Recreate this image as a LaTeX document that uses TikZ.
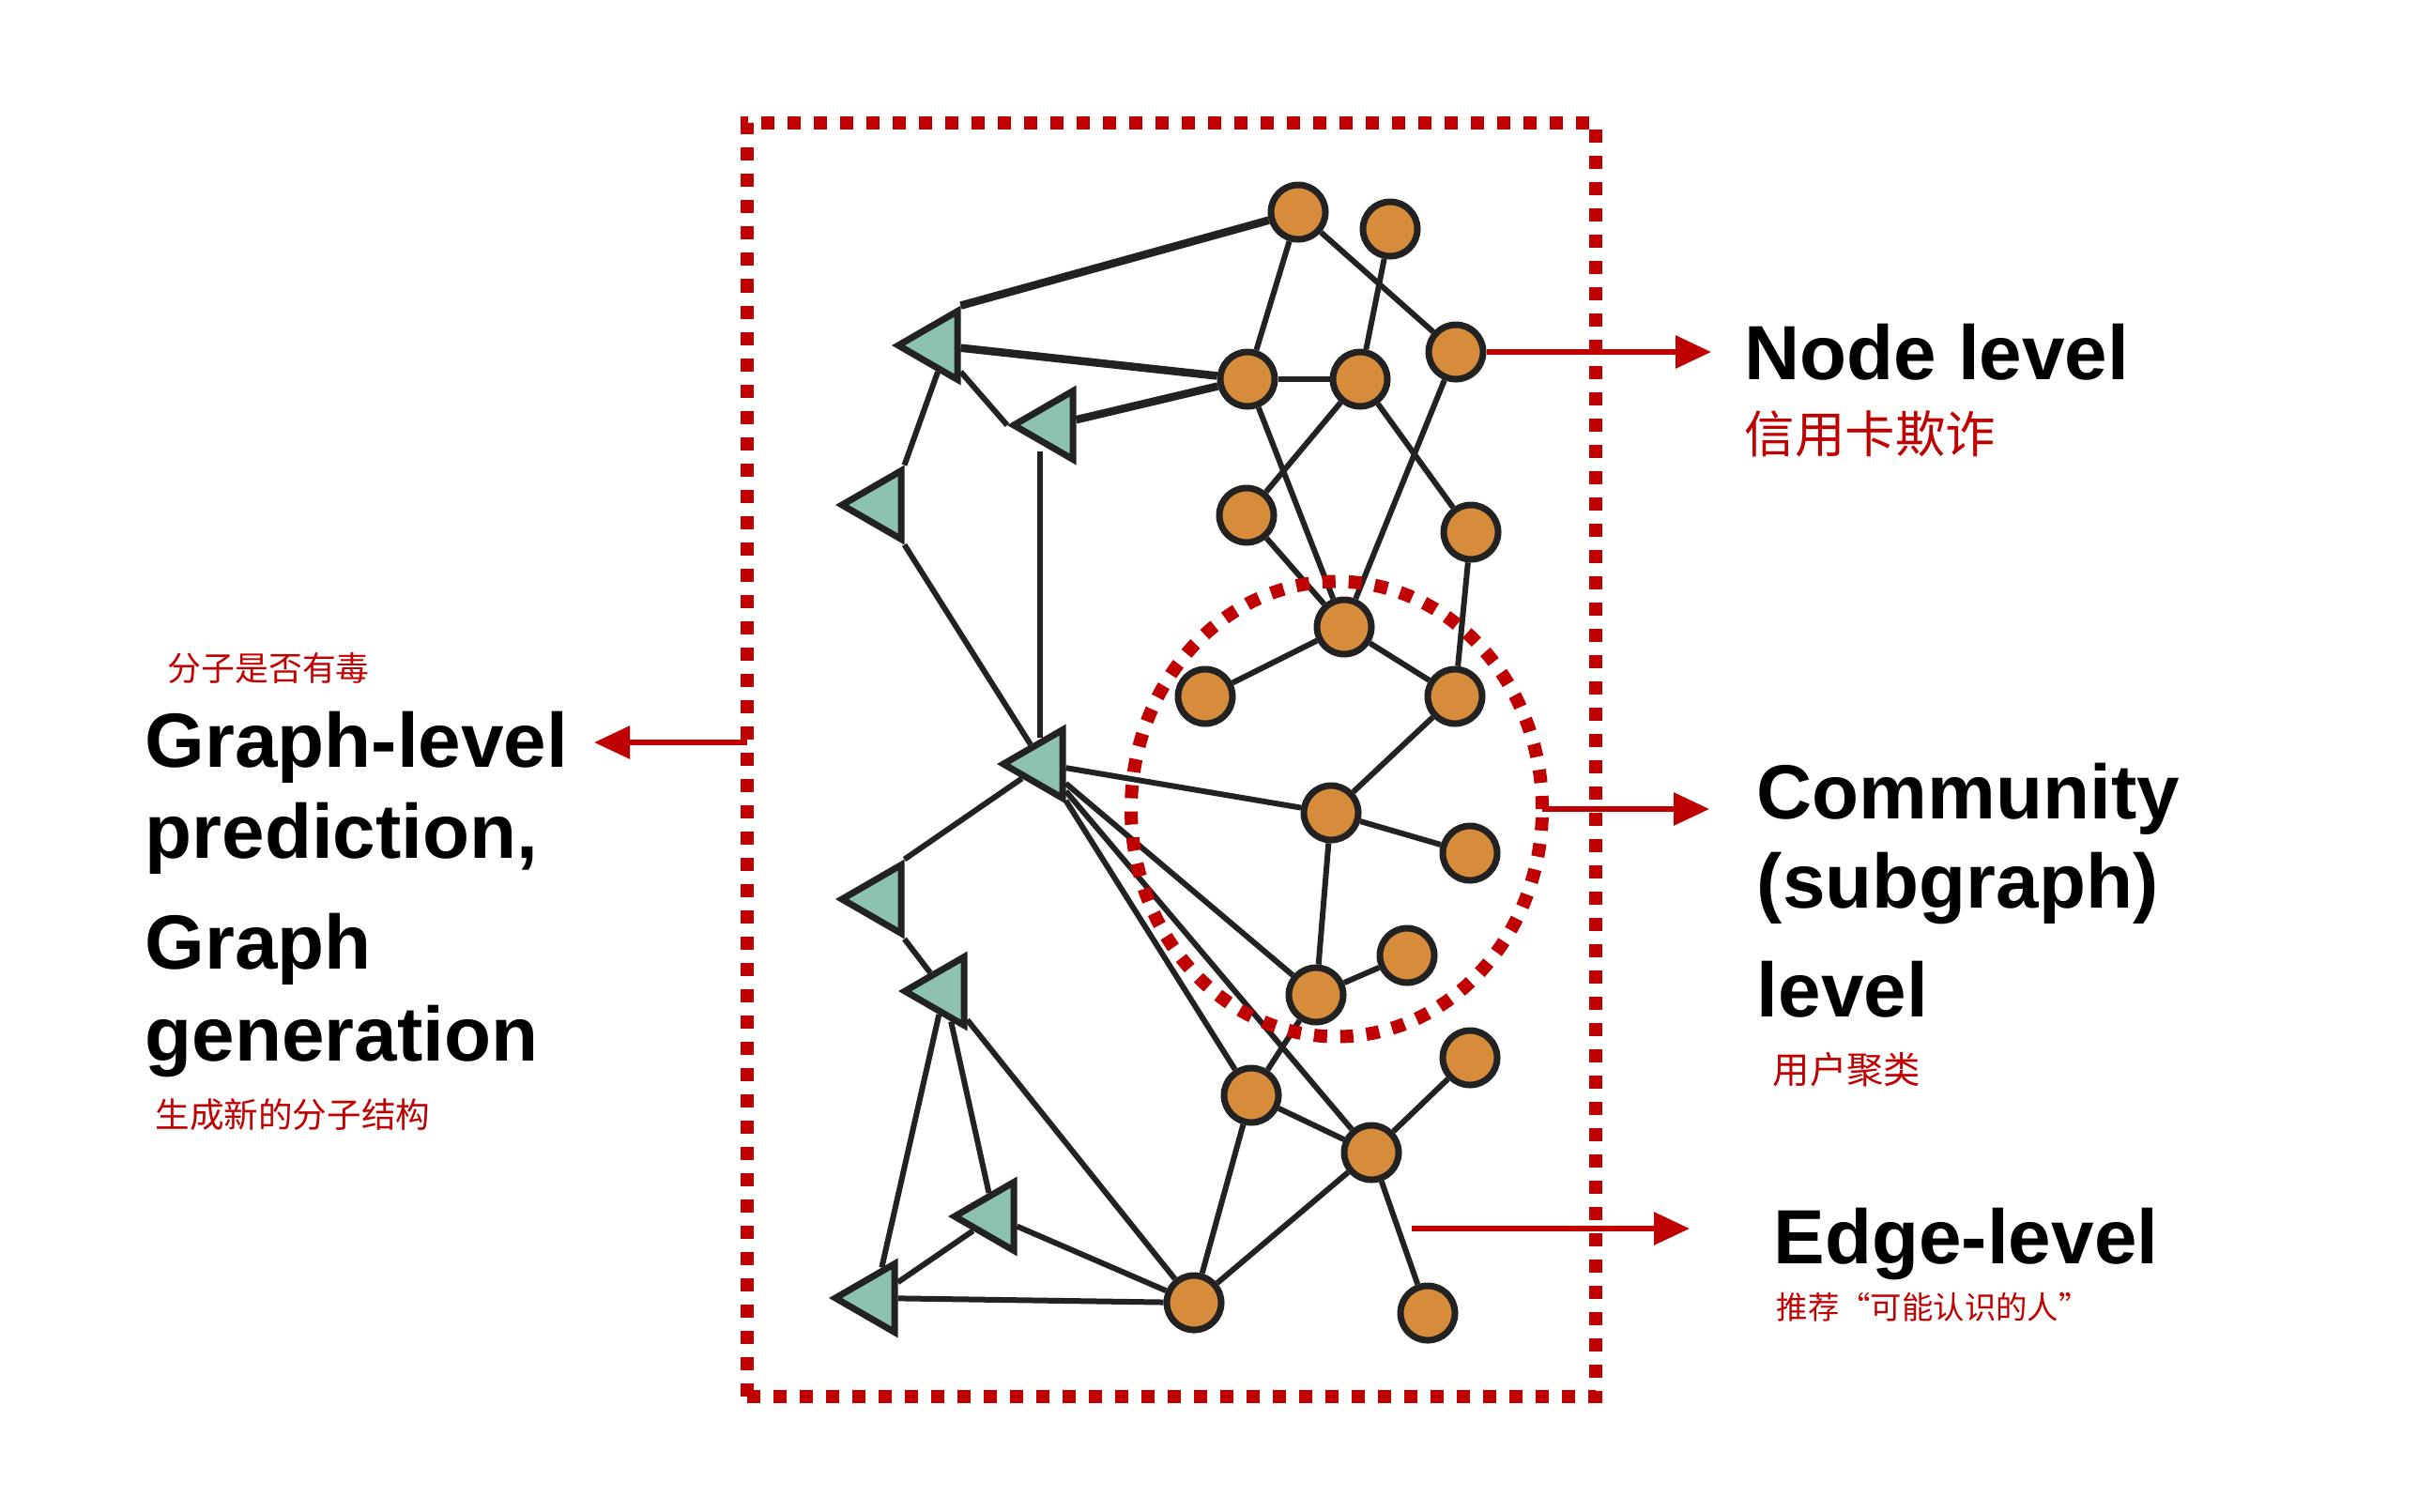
\documentclass[tikz,border=0pt]{standalone}
\usepackage{fontspec}
\setmainfont{Liberation Sans}
\newfontfamily\cjk{Noto Sans CJK SC}
\usepackage{xcolor}
\usepackage{tikz}
\usetikzlibrary{arrows.meta,shapes.geometric}

\definecolor{boxred}{HTML}{C00000}
\definecolor{vtxorange}{HTML}{D68C3A}
\definecolor{triteal}{HTML}{8DC1B1}
\definecolor{edgedark}{HTML}{222222}

\begin{document}
\begin{tikzpicture}[y=-1cm,
	vtx/.style={circle, draw=edgedark, fill=vtxorange, line width=0.07cm, minimum size=0.58cm, inner sep=0pt},
	tri/.style={regular polygon, regular polygon sides=3, shape border rotate=90, draw=edgedark, fill=triteal, line width=0.07cm, minimum size=0.84cm, inner sep=0pt},
	link/.style={draw=edgedark, line width=0.06cm},
	heavy/.style={draw=edgedark, line width=0.085cm},
	dots/.style={draw=boxred, line width=0.14cm, dash pattern=on 0.14cm off 0.14cm, inner sep=0pt, outer sep=0pt},
	pointer/.style={draw=boxred, line width=0.06cm, -{Triangle[length=0.38cm,width=0.34cm]}},
	big/.style={font=\fontsize{23.3}{28}\selectfont\bfseries, inner sep=0pt, anchor=base west},
	note/.style={text=boxred, inner sep=0pt, anchor=west}]

	\useasboundingbox (0,0) rectangle (25.76,16.10);

	\node[dots, rectangle, minimum width=9.04cm, minimum height=13.57cm] (frame) at (12.48,8.09) {};

	\node[vtx] (c1) at (13.83,2.26) {};
	\node[vtx] (c2) at (14.81,2.44) {};
	\node[vtx] (c3) at (15.51,3.75) {};
	\node[vtx] (c4) at (13.29,4.04) {};
	\node[vtx] (c5) at (14.49,4.04) {};
	\node[vtx] (c6) at (13.28,5.49) {};
	\node[vtx] (c7) at (15.67,5.67) {};
	\node[vtx] (c8) at (14.32,6.68) {};
	\node[vtx] (c9) at (12.84,7.42) {};
	\node[vtx] (c10) at (15.50,7.42) {};
	\node[vtx] (c11) at (14.18,8.66) {};
	\node[vtx] (c12) at (15.66,9.09) {};
	\node[vtx] (c13) at (14.99,10.18) {};
	\node[vtx] (c14) at (14.02,10.60) {};
	\node[vtx] (c15) at (15.66,11.27) {};
	\node[vtx] (c16) at (13.33,11.67) {};
	\node[vtx] (c17) at (14.61,12.28) {};
	\node[vtx] (c18) at (12.72,13.88) {};
	\node[vtx] (c19) at (15.21,13.99) {};

	\node[tri] (t1) at (9.99,3.68) {};
	\node[tri] (t2) at (11.22,4.53) {};
	\node[tri] (t3) at (9.39,5.38) {};
	\node[tri] (t4) at (11.11,8.14) {};
	\node[tri] (t5) at (9.39,9.58) {};
	\node[tri] (t6) at (10.06,10.56) {};
	\node[tri] (t7) at (10.59,12.96) {};
	\node[tri] (t8) at (9.32,13.83) {};

	\draw[heavy] (t1.corner 3) -- (c1);
	\draw[heavy] (t1) -- (c4);
	\draw[heavy] (t2) -- (c4);
	\draw[link] (t1) -- (t2.corner 1);
	\draw[link] (t1.south) -- (t3.corner 3);
	\draw[link] ([xshift=-0.14cm]t2.south) -- ([xshift=-0.14cm]t2.south |- t4.north);
	\draw[link] (t3.corner 2) -- (t4);
	\draw[link] (c1) -- (c4);
	\draw[link] (c1) -- (c3);
	\draw[link] (c2) -- (c5);
	\draw[link] (c4) -- (c5);
	\draw[link] (c4) -- (c8);
	\draw[link] (c5) -- (c6);
	\draw[link] (c5) -- (c7);
	\draw[link] (c3) -- (c8);
	\draw[link] (c6) -- (c8);
	\draw[link] (c7) -- (c10);
	\draw[link] (c8) -- (c9);
	\draw[link] (c8) -- (c10);
	\draw[link] (c10) -- (c11);
	\draw[link] (c11) -- (c12);
	\draw[link] (c11) -- (c14);
	\draw[link] (t4) -- (c11);
	\draw[link] (t4) -- (c14);
	\draw[link] (t4) -- (c16);
	\draw[link] (t4) -- (c17);
	\draw[link] (t4) -- (t5.corner 3);
	\draw[link] (t5.corner 2) -- (t6);
	\draw[link] (t6) -- (t7);
	\draw[link] (t6) -- (t8);
	\draw[link] (t6) -- (c18);
	\draw[link] (t7) -- (t8);
	\draw[link] (t7) -- (c18);
	\draw[link] (t8) -- (c18);
	\draw[link] (c14) -- (c13);
	\draw[link] (c14) -- (c16);
	\draw[link] (c16) -- (c17);
	\draw[link] (c16) -- (c18);
	\draw[link] (c17) -- (c18);
	\draw[link] (c17) -- (c15);
	\draw[link] (c17) -- (c19);

	\node[dots, ellipse, minimum width=4.38cm, minimum height=4.85cm] (community) at (14.24,8.62) {};

	\coordinate (nodetip) at (18.23,3.75);
	\draw[pointer] (c3.east) -- (nodetip);
	\coordinate (commtip) at (18.21,8.62);
	\draw[pointer] (community.east) -- (commtip);
	\coordinate (edgestart) at (15.04,13.09);
	\coordinate (edgetip) at (18.00,13.09);
	\draw[pointer] (edgestart) -- (edgetip);
	\coordinate (graphtip) at (6.33,7.91);
	\draw[pointer] (frame.west |- graphtip) -- (graphtip);

	\node[big] (nodelvl) at (18.58,4.04) {Node level};
	\node[note, font=\cjk\fontsize{15.2}{16}\selectfont] (nodenote) at (18.58,4.62) {信用卡欺诈};

	\node[note, font=\cjk\fontsize{10.2}{12}\selectfont] (graphnote) at (1.78,7.12) {分子是否有毒};
	\node[big] (gl1) at (1.54,8.17) {Graph-level};
	\node[big] (gl2) at (1.54,9.14) {prediction,};
	\node[big] (gl3) at (1.54,10.32) {Graph};
	\node[big] (gl4) at (1.54,11.30) {generation};
	\node[note, font=\cjk\fontsize{10.4}{12}\selectfont] (gennote) at (1.65,11.88) {生成新的分子结构};

	\node[big] (cm1) at (18.71,8.72) {Community};
	\node[big] (cm2) at (18.71,9.67) {(subgraph)};
	\node[big] (cm3) at (18.71,10.83) {level};
	\node[note, font=\cjk\fontsize{11.2}{12}\selectfont] (commnote) at (18.88,11.40) {用户聚类};

	\node[big] (edgelvl) at (18.89,13.46) {Edge-level};
	\node[note, font=\cjk\fontsize{9.5}{12}\selectfont] (edgenote) at (18.92,13.93) {推荐“可能认识的人”};

\end{tikzpicture}
\end{document}
